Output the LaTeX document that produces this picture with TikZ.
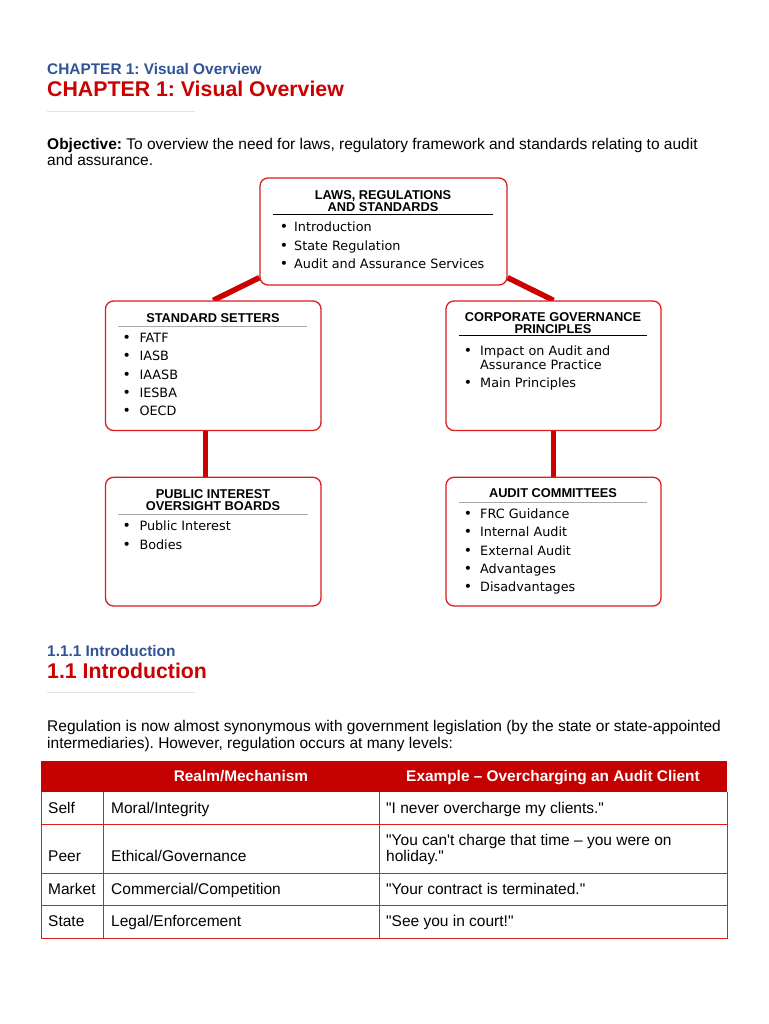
\documentclass[tikz,border=0pt]{standalone}
\usepackage{fontspec}
\setmainfont{Liberation Sans}
\newfontfamily\plainfont{Liberation Sans}
\newfontfamily\boxfont{DejaVu Sans}
\frenchspacing
\definecolor{hred}{RGB}{204,0,0}
\definecolor{hblue}{RGB}{47,84,150}
\definecolor{bred}{RGB}{218,30,30}
\definecolor{cred}{RGB}{204,0,0}
\definecolor{tred}{RGB}{196,0,0}
\definecolor{gline}{RGB}{170,170,170}
\definecolor{hrule}{RGB}{225,225,225}
\pgfdeclarelayer{paper}
\pgfdeclarelayer{links}
\pgfsetlayers{paper,links,main}
\tikzset{
  box/.style={draw=bred,line width=1.3pt,rounded corners=8pt,fill=white,inner sep=0pt},
  conn/.style={draw=cred,line width=5.5pt},
  ttl/.style={inner sep=0pt,anchor=base,font=\fontsize{12.8}{12}\selectfont\bfseries},
  itm/.style={inner sep=0pt,anchor=base west,font=\boxfont\fontsize{12.8}{15}\selectfont},
  bul/.style={inner sep=0pt,anchor=base,font=\boxfont\fontsize{14}{15}\selectfont},
  body/.style={inner sep=0pt,anchor=base west,font=\fontsize{15.5}{17}\selectfont},
  cell/.style={inner sep=0pt,anchor=base west,font=\plainfont\fontsize{15.5}{17}\selectfont},
  hcell/.style={inner sep=0pt,anchor=base,text=white,font=\fontsize{15.4}{17}\selectfont\bfseries},
  bhead/.style={inner sep=0pt,anchor=base west,text=hblue,font=\fontsize{15.4}{17}\selectfont\bfseries},
  rhead/.style={inner sep=0pt,anchor=base west,text=hred,font=\fontsize{21.3}{24}\selectfont\bfseries},
  tline/.style={draw=bred,line width=0.9pt},
}
\newcommand\bitem[4]{%
  \node[bul] at (#1,#3) {•};
  \node[itm] at (#2,#3) {#4};}
\begin{document}
\begin{tikzpicture}[x=1pt,y=-1pt]
\begin{pgfonlayer}{paper}
\fill[white] (0,0) rectangle (768,1024);
\end{pgfonlayer}
\useasboundingbox (0,0) rectangle (768,1024);

% headings
\node[bhead] (h1) at (47,75) {CHAPTER 1: Visual Overview};
\node[rhead] (h2) at (47,97) {CHAPTER 1: Visual Overview};
\draw[hrule,line width=1pt] (47,111.5) -- (195,111.5);
\node[body] (obj1) at (47,150) {\textbf{Objective:} To overview the need for laws, regulatory framework and standards relating to audit};
\node[body] (obj2) at (47,166) {and assurance.};

% boxes
\node[box,minimum width=247pt,minimum height=107pt] (laws) at (383.5,231.5) {};
\node[box,minimum width=215.5pt,minimum height=129.5pt] (std) at (213.25,365.75) {};
\node[box,minimum width=215pt,minimum height=129.5pt] (cgp) at (553.5,365.75) {};
\node[box,minimum width=215.5pt,minimum height=128.7pt] (pib) at (213.25,541.65) {};
\node[box,minimum width=215pt,minimum height=128.7pt] (aud) at (553.5,541.65) {};

% connectors
\begin{pgfonlayer}{links}
\draw[conn] ([yshift=8pt]laws.south west) -- (std.north);
\draw[conn] ([yshift=8pt]laws.south east) -- (cgp.north);
\draw[conn] ([xshift=-8pt]std.south) -- ([xshift=-8pt]pib.north);
\draw[conn] (cgp.south) -- (aud.north);
\end{pgfonlayer}

% laws box
\node[ttl] at (383,200) {LAWS, REGULATIONS};
\node[ttl] at (383,211.5) {AND STANDARDS};
\draw[black,line width=1pt] (273,215) -- (493,215);
\bitem{284}{294}{231.7}{Introduction}
\bitem{284}{294}{250}{State Regulation}
\bitem{284}{294}{268.3}{Audit and Assurance Services}

% standard setters
\node[ttl] at (213,322.3) {STANDARD SETTERS};
\draw[gline,line width=1pt] (118,326.7) -- (307,326.7);
\bitem{126.7}{139.3}{342.3}{FATF}
\bitem{126.7}{139.3}{360.7}{IASB}
\bitem{126.7}{139.3}{379}{IAASB}
\bitem{126.7}{139.3}{397.4}{IESBA}
\bitem{126.7}{139.3}{415.7}{OECD}

% corporate governance
\node[ttl] at (553,321.7) {CORPORATE GOVERNANCE};
\node[ttl] at (553,333.3) {PRINCIPLES};
\draw[black,line width=1.3pt] (459.3,335.8) -- (646.7,335.8);
\bitem{468}{480}{355}{Impact on Audit and}
\node[itm] at (480,369.5) {Assurance Practice};
\bitem{468}{480}{387.7}{Main Principles}

% public interest
\node[ttl] at (213,498.3) {PUBLIC INTEREST};
\node[ttl] at (213,510) {OVERSIGHT BOARDS};
\draw[gline,line width=1pt] (118,514) -- (308,514);
\bitem{126.7}{139.3}{530.7}{Public Interest}
\bitem{126.7}{139.3}{549.3}{Bodies}

% audit committees
\node[ttl] at (553,497.3) {AUDIT COMMITTEES};
\draw[gline,line width=1pt] (459.3,502.7) -- (646.7,502.7);
\bitem{468}{480}{518.3}{FRC Guidance}
\bitem{468}{480}{536.7}{Internal Audit}
\bitem{468}{480}{555}{External Audit}
\bitem{468}{480}{573.2}{Advantages}
\bitem{468}{480}{591.5}{Disadvantages}

% section 1.1
\node[bhead] (h3) at (47,656.5) {1.1.1 Introduction};
\node[rhead] (h4) at (47,678.5) {1.1 Introduction};
\draw[hrule,line width=1pt] (47,692.3) -- (195,692.3);
\node[body] (reg1) at (47,731.5) {Regulation is now almost synonymous with government legislation (by the state or state-appointed};
\node[body] (reg2) at (47,748.3) {intermediaries). However, regulation occurs at many levels:};

% table
\fill[tred] (41,760.5) rectangle (727,792);
\draw[tline] (41,792) -- (41,938) -- (727,938) -- (727,792);
\draw[tline] (41,824.3) -- (727,824.3);
\draw[tline] (41,873.3) -- (727,873.3);
\draw[tline] (41,905.3) -- (727,905.3);
\draw[tline] (103.5,792) -- (103.5,938);
\draw[tline] (379.5,792) -- (379.5,938);
\node[hcell] at (241,781.5) {Realm/Mechanism};
\node[hcell] at (553,781.5) {Example – Overcharging an Audit Client};
\node[cell] at (48,813) {Self};
\node[cell] at (111,813) {Moral/Integrity};
\node[cell] at (386,813) {"I never overcharge my clients."};
\node[cell] at (48,861.5) {Peer};
\node[cell] at (111,861.5) {Ethical/Governance};
\node[cell] at (386,845) {"You can't charge that time – you were on};
\node[cell] at (386,861.5) {holiday."};
\node[cell] at (48,894) {Market};
\node[cell] at (111,894) {Commercial/Competition};
\node[cell] at (386,894) {"Your contract is terminated."};
\node[cell] at (48,926.5) {State};
\node[cell] at (111,926.5) {Legal/Enforcement};
\node[cell] at (386,926.5) {"See you in court!"};
\end{tikzpicture}
\end{document}
